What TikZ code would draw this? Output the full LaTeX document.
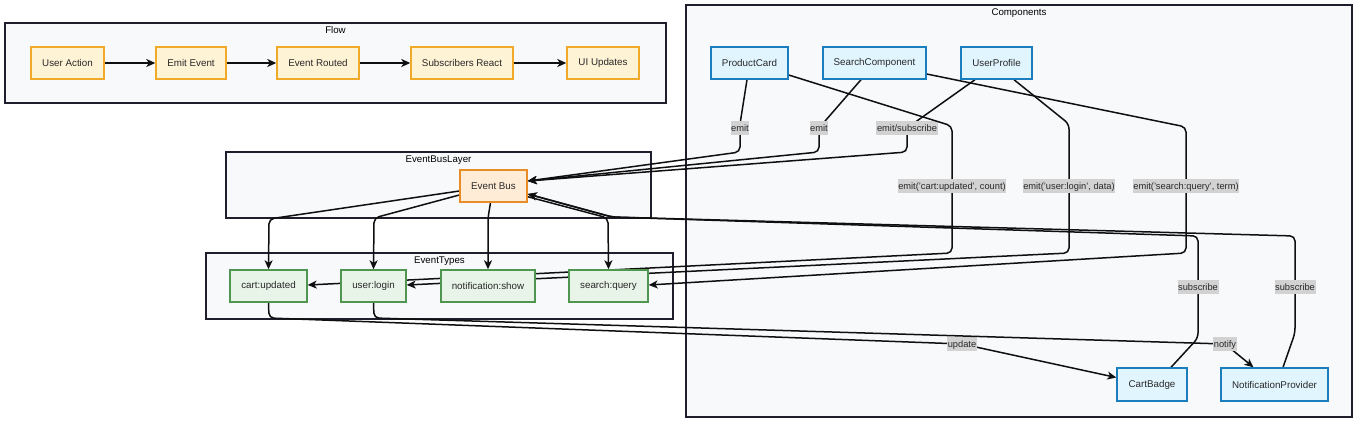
\documentclass[tikz,border=0pt]{standalone}
\usepackage{fontspec}
\setmainfont{Liberation Sans}
\usetikzlibrary{arrows.meta,calc}
\pgfdeclarelayer{bg}
\pgfdeclarelayer{edges}
\pgfsetlayers{bg,edges,main}
\definecolor{yfill}{RGB}{255,243,214}
\definecolor{ystroke}{RGB}{240,170,40}
\definecolor{ofill}{RGB}{255,236,214}
\definecolor{ostroke}{RGB}{232,140,40}
\definecolor{gfill}{RGB}{232,244,232}
\definecolor{gstroke}{RGB}{80,150,80}
\definecolor{bfill}{RGB}{225,245,254}
\definecolor{bstroke}{RGB}{25,125,190}
\definecolor{contfill}{RGB}{248,249,251}
\definecolor{contline}{RGB}{30,30,45}
\definecolor{edgec}{RGB}{15,15,15}
\definecolor{lblbg}{RGB}{210,210,210}
\definecolor{txt}{RGB}{40,40,40}
\begin{document}
\begin{tikzpicture}[x=1pt,y=-1pt,
  box/.style={draw, line width=1.4pt, minimum height=32pt, inner sep=0pt, font=\fontsize{9.8}{11}\selectfont, text=txt},
  flownode/.style={box, fill=yfill, draw=ystroke},
  busnode/.style={box, fill=ofill, draw=ostroke},
  typenode/.style={box, fill=gfill, draw=gstroke},
  compnode/.style={box, fill=bfill, draw=bstroke},
  cont/.style={draw=contline, fill=contfill, line width=1.3pt, inner sep=0pt},
  ttl/.style={font=\fontsize{9.7}{11}\selectfont, inner sep=0pt, text=black},
  conn/.style={line width=1.5pt, draw=edgec, rounded corners=5pt, -{Stealth[length=9pt,width=8pt,inset=2.5pt]}},
  lbl/.style={fill=lblbg, text=txt, font=\fontsize{9.3}{10}\selectfont, inner xsep=0.6pt, inner ysep=2pt, text height=8.3pt, text depth=2.2pt},
]
\useasboundingbox (0,0) rectangle (1358,421);
\begin{pgfonlayer}{bg}
  \fill[white] (0,0) rectangle (1358,421);
  \node[cont, minimum width=661pt, minimum height=80pt] (flowbox) at (335.5,63) {};
  \node[ttl] (tflow) at (335.5,30.5) {Flow};
  \node[cont, minimum width=425pt, minimum height=66pt] (buslayer) at (438.5,185) {};
  \node[ttl] (tbus) at (438.5,160) {EventBusLayer};
  \node[cont, minimum width=467pt, minimum height=66pt] (typesbox) at (439.5,286) {};
  \node[ttl] (ttypes) at (439.5,261) {EventTypes};
  \node[cont, minimum width=666pt, minimum height=412pt] (compbox) at (1019,211) {};
  \node[ttl] (tcomp) at (1019,13.5) {Components};
\end{pgfonlayer}

% Flow nodes
\node[flownode, minimum width=73pt] (ua) at (67.5,63) {User Action};
\node[flownode, minimum width=70pt] (ee) at (191,63) {Emit Event};
\node[flownode, minimum width=82pt] (er) at (318,63) {Event Routed};
\node[flownode, minimum width=102pt] (sr) at (462,63) {Subscribers React};
\node[flownode, minimum width=72pt] (uu) at (603,63) {UI Updates};

% Event bus
\node[busnode, minimum width=67pt] (eb) at (493.5,186) {Event Bus};

% Event types
\node[typenode, minimum width=77pt] (cu) at (268.5,286) {cart:updated};
\node[typenode, minimum width=65pt] (ul) at (373.5,286) {user:login};
\node[typenode, minimum width=94pt] (ns) at (488,286) {notification:show};
\node[typenode, minimum width=79pt] (sq) at (608.5,286) {search:query};

% Components
\node[compnode, minimum width=77pt] (pc) at (749.5,63) {ProductCard};
\node[compnode, minimum width=103pt] (sc) at (874.5,63) {SearchComponent};
\node[compnode, minimum width=71pt] (up) at (996.5,63) {UserProfile};
\node[compnode, minimum width=70pt, minimum height=33pt] (cb) at (1152,384.5) {CartBadge};
\node[compnode, minimum width=107pt, minimum height=33pt] (np) at (1274.5,384.5) {NotificationProvider};

\begin{pgfonlayer}{edges}
  % flow
  \draw[conn] (ua) -- (ee);
  \draw[conn] (ee) -- (er);
  \draw[conn] (er) -- (sr);
  \draw[conn] (sr) -- (uu);
  % emits to bus
  \draw[conn] ($(pc.south)+(-2.5,0)$) -- (740,124) -- (740,152) -- ($(eb.east)+(0,-5)$);
  \node[lbl] (l1) at (740,128) {emit};
  \draw[conn] ($(sc.south)+(-13.5,0)$) -- (819,128) -- (819,152) -- ($(eb.east)+(0,-5)$);
  \node[lbl] (l2) at (819,128) {emit};
  \draw[conn] ($(up.south)+(-21.5,0)$) -- (907,128) -- (907,152) -- ($(eb.east)+(0,-5)$);
  \node[lbl] (l3) at (907,128) {emit/subscribe};
  % emit events to types
  \draw[conn] ($(pc.east)+(0,12)$) -- (952,126) -- (952,253) -- ($(cu.east)+(0,-1)$);
  \node[lbl] (l4) at (952,186) {emit('cart:updated', count)};
  \draw[conn] ($(up.south)+(17.5,0)$) -- (1069,124) -- (1069,253) -- ($(ul.east)+(0,-1)$);
  \node[lbl] (l5) at (1069,186) {emit('user:login', data)};
  \draw[conn] ($(sc.east)+(0,11)$) -- (1186,127) -- (1186,253) -- ($(sq.east)+(0,-1)$);
  \node[lbl] (l6) at (1186,186) {emit('search:query', term)};
  % bus to types
  \draw[conn] ($(eb.west)+(0,5)$) -- (269,219) -- (cu.north);
  \draw[conn] ($(eb.west)+(0,9)$) -- (374,218) -- (ul.north);
  \draw[conn] ($(eb.south)+(-3,0)$) -- (488,218) -- (ns.north);
  \draw[conn] ($(eb.south east)+(0,-6)$) -- (608,218) -- (sq.north);
  % subscribes
  \draw[conn] ($(cb.north)+(19,0)$) -- (1198,338) -- (1198,236) -- (612,217) -- ($(eb.east)+(0,8)$);
  \node[lbl] (l7) at (1198,287) {subscribe};
  \draw[conn] ($(np.north)+(8.5,0)$) -- (1295,333) -- (1295,236) -- (612,217) -- ($(eb.east)+(0,8)$);
  \node[lbl] (l8) at (1295,287) {subscribe};
  % update / notify
  \draw[conn] (cu.south) -- (269,318) -- (962,344) -- ($(cb.west)+(0,-7)$);
  \node[lbl] (l9) at (962,344) {update};
  \draw[conn] (ul.south) -- (374,318) -- (1225,344) -- ($(np.north)+(-21,0)$);
  \node[lbl] (l10) at (1225,344) {notify};
\end{pgfonlayer}
\end{tikzpicture}
\end{document}
